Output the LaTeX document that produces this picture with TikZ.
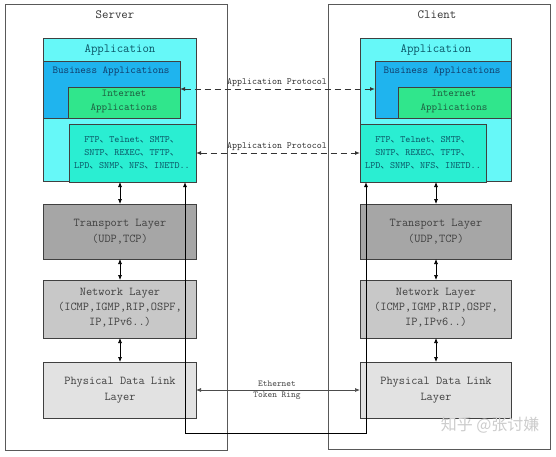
\documentclass[tikz,border=0pt]{standalone}
\usepackage{fontspec}
\newfontfamily\cjk{Noto Sans CJK SC}
\usetikzlibrary{arrows.meta}
\definecolor{appc}{HTML}{66F8F8}
\definecolor{bizc}{HTML}{1FB4EE}
\definecolor{inetc}{HTML}{30E68C}
\definecolor{ftpc}{HTML}{2AEED2}
\definecolor{trc}{HTML}{A6A6A6}
\definecolor{nwc}{HTML}{C8C8C8}
\definecolor{phc}{HTML}{E2E2E2}
\definecolor{tealtxt}{HTML}{0B5566}
\definecolor{biztxt}{HTML}{12406E}
\definecolor{inettxt}{HTML}{1E5E40}
\newcommand{\dn}{{\cjk 、}}
\tikzset{
  box/.style={draw=black!75, line width=0.8pt, inner sep=0pt, outer sep=0pt, anchor=north west},
  frame/.style={draw=black!65, line width=0.8pt, inner sep=0pt, outer sep=0pt, anchor=north west},
  txt/.style={font=\ttfamily\fontsize{12.5}{15}\selectfont, align=center, inner sep=0pt},
  stxt/.style={font=\ttfamily\fontsize{9.7}{13}\selectfont, align=center, inner sep=0pt},
  ltxt/.style={font=\ttfamily\fontsize{12}{16}\selectfont, align=center, inner sep=0pt, text=black!75},
  dbl/.style={{Latex[length=5pt,width=4pt]}-{Latex[length=5pt,width=4pt]}, line width=0.7pt},
  proto/.style={dbl, dashed, dash pattern=on 6pt off 4pt, line width=1pt, black!80},
}
\begin{document}
\begin{tikzpicture}[x=1pt,y=-1pt]
\useasboundingbox (0,0) rectangle (556,456);
\fill[white] (0,0) rectangle (556,456);
% frames
\node[frame, minimum width=222pt, minimum height=446pt] (server) at (5,4) {};
\node[frame, minimum width=222pt, minimum height=445pt] (client) at (328,4) {};
\node[font=\ttfamily\fontsize{12.5}{13}\selectfont, text=black!80] (stitle) at (115,15) {Server};
\node[font=\ttfamily\fontsize{12.5}{13}\selectfont, text=black!80] (ctitle) at (437,15) {Client};

% server application
\node[box, fill=appc, minimum width=153pt, minimum height=143pt] (sapp) at (43,38) {};
\node[box, fill=bizc, minimum width=137pt, minimum height=57pt] (sbiz) at (43,61) {};
\node[box, fill=inetc, minimum width=112pt, minimum height=31pt] (sinet) at (68,87) {};
\node[box, fill=ftpc, minimum width=127pt, minimum height=58pt] (sftp) at (69,124) {};
\node[txt, text=tealtxt] (sappt) at (120,50) {Application};
\node[stxt, text=biztxt, font=\ttfamily\fontsize{10.6}{13}\selectfont] (sbizt) at (111,71) {Business Applications};
\node[stxt, text=inettxt, font=\ttfamily\fontsize{10.6}{14}\selectfont] (sinett) at (124,101) {Internet\\Applications};
\node[stxt, text=tealtxt] (sftpt) at (132,153) {FTP\dn Telnet\dn SMTP\dn\\SNTP\dn REXEC\dn TFTP\dn\\LPD\dn SNMP\dn NFS\dn INETD..};

% client application
\node[box, fill=appc, minimum width=151pt, minimum height=143pt] (capp) at (360,38) {};
\node[box, fill=bizc, minimum width=136pt, minimum height=57pt] (cbiz) at (375,61) {};
\node[box, fill=inetc, minimum width=113pt, minimum height=31pt] (cinet) at (398,87) {};
\node[box, fill=ftpc, minimum width=126pt, minimum height=58pt] (cftp) at (360,124) {};
\node[txt, text=tealtxt] (cappt) at (436,50) {Application};
\node[stxt, text=biztxt, font=\ttfamily\fontsize{10.6}{13}\selectfont] (cbizt) at (442,71) {Business Applications};
\node[stxt, text=inettxt, font=\ttfamily\fontsize{10.6}{14}\selectfont] (cinett) at (454,101) {Internet\\Applications};
\node[stxt, text=tealtxt] (cftpt) at (423,153) {FTP\dn Telnet\dn SMTP\dn\\SNTP\dn REXEC\dn TFTP\dn\\LPD\dn SNMP\dn NFS\dn INETD..};

% server layers
\node[box, fill=trc, minimum width=153pt, minimum height=55pt] (strans) at (43,204) {};
\node[box, fill=nwc, minimum width=153pt, minimum height=58pt] (snet) at (43,280) {};
\node[box, fill=phc, minimum width=153pt, minimum height=56pt] (sphy) at (43,362) {};
\node[ltxt] (stranst) at (120,231.5) {Transport Layer\\(UDP,TCP)};
\node[ltxt, font=\ttfamily\fontsize{12}{15}\selectfont] (snett) at (120,308) {Network Layer\\(ICMP,IGMP,RIP,OSPF,\\IP,IPv6..)};
\node[ltxt] (sphyt) at (120,390) {Physical Data Link\\Layer};

% client layers
\node[box, fill=trc, minimum width=151pt, minimum height=55pt] (ctrans) at (360,204) {};
\node[box, fill=nwc, minimum width=151pt, minimum height=58pt] (cnet) at (360,280) {};
\node[box, fill=phc, minimum width=151pt, minimum height=56pt] (cphy) at (360,362) {};
\node[ltxt] (ctranst) at (436,231.5) {Transport Layer\\(UDP,TCP)};
\node[ltxt, font=\ttfamily\fontsize{12}{15}\selectfont] (cnett) at (436,308) {Network Layer\\(ICMP,IGMP,RIP,OSPF,\\IP,IPv6..)};
\node[ltxt] (cphyt) at (436,390) {Physical Data Link\\Layer};

% vertical arrows
\coordinate (sx) at (120,0);
\coordinate (cx) at (436,0);
\draw[dbl] (sftp.south -| sx) -- (strans.north -| sx);
\draw[dbl] (strans.south -| sx) -- (snet.north -| sx);
\draw[dbl] (snet.south -| sx) -- (sphy.north -| sx);
\draw[dbl] (cftp.south -| cx) -- (ctrans.north -| cx);
\draw[dbl] (ctrans.south -| cx) -- (cnet.north -| cx);
\draw[dbl] (cnet.south -| cx) -- (cphy.north -| cx);

% long connector between FTP boxes
\coordinate (sl) at (185,433);
\coordinate (cl) at (366,433);
\draw[dbl, line width=1pt] (sftp.south -| sl) -- (sl) -- (cl) -- (cftp.south -| cl);

% application protocol arrows
\coordinate (p1) at (0,89);
\draw[proto] (sinet.east |- p1) -- (cbiz.west |- p1);
\draw[proto] (sftp.east) -- (cftp.west);
\node[font=\ttfamily\fontsize{9.5}{10}\selectfont, text=black!80, inner sep=0pt] (ap1) at (277,82.5) {Application Protocol};
\node[font=\ttfamily\fontsize{9.5}{10}\selectfont, text=black!80, inner sep=0pt] (ap2) at (277,146.5) {Application Protocol};

% ethernet
\draw[dbl, black!70] (sphy.east) -- (cphy.west);
\node[font=\ttfamily\fontsize{9}{11}\selectfont, text=black!70, align=center, inner sep=0pt] (eth) at (277,390.5) {Ethernet\\Token Ring};

% watermark
\node[font=\cjk\fontsize{16}{18}\selectfont, text=black!20, anchor=east] (wm) at (543,425) {知乎 @张讨嫌};
\end{tikzpicture}
\end{document}
